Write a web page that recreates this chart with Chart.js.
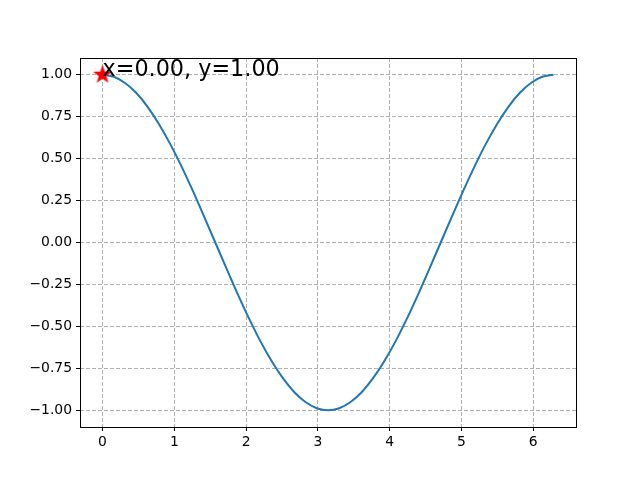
<!DOCTYPE html>
<html>
<head>
<meta charset="utf-8">
<script src="https://cdn.jsdelivr.net/npm/chart.js@4.4.0/dist/chart.umd.min.js"></script>
<style>
  body { margin: 0; background: #fff; }
  canvas { display: block; }
</style>
</head>
<body>
<canvas id="chart" width="640" height="480"></canvas>
<script>
// values
const xValues = [0, 0.157, 0.314, 0.471, 0.628, 0.785, 0.942, 1.100, 1.257, 1.414, 1.571, 1.728, 1.885,
  2.042, 2.199, 2.356, 2.513, 2.670, 2.827, 2.985, 3.142, 3.299, 3.456, 3.613, 3.770, 3.927, 4.084,
  4.241, 4.398, 4.555, 4.712, 4.869, 5.027, 5.184, 5.341, 5.498, 5.655, 5.812, 5.969, 6.126, 6.283];
const yValues = [1.000, 0.988, 0.951, 0.891, 0.809, 0.707, 0.588, 0.454, 0.309, 0.156, 0.000, -0.156,
  -0.309, -0.454, -0.588, -0.707, -0.809, -0.891, -0.951, -0.988, -1.000, -0.988, -0.951, -0.891,
  -0.809, -0.707, -0.588, -0.454, -0.309, -0.156, 0.000, 0.156, 0.309, 0.454, 0.588, 0.707, 0.809,
  0.891, 0.951, 0.988, 1.000];
const markX = [0];
const markY = [1.00];
const markLabel = "x=0.00, y=1.00";
const xTicks = [0, 1, 2, 3, 4, 5, 6];
const yTicks = [-1.00, -0.75, -0.50, -0.25, 0.00, 0.25, 0.50, 0.75, 1.00];

document.addEventListener("DOMContentLoaded", function () {
  // filled star for the marker
  const star = document.createElement("canvas");
  star.width = 22;
  star.height = 22;
  const sc = star.getContext("2d");
  sc.beginPath();
  for (let i = 0; i < 10; i++) {
    const r = i % 2 === 0 ? 10 : 4;
    const a = -Math.PI / 2 + i * Math.PI / 5;
    const px = 11 + r * Math.cos(a), py = 11 + r * Math.sin(a);
    if (i === 0) sc.moveTo(px, py); else sc.lineTo(px, py);
  }
  sc.closePath();
  sc.fillStyle = "#ff0000";
  sc.fill();

  const tickFont = { family: "DejaVu Sans", size: 13.9 };
  const fmt = v => (v < 0 ? "\u2212" : "") + Math.abs(v).toFixed(2);

  const frame = {
    id: "frame",
    afterDatasetsDraw(chart) {
      const { ctx, chartArea: a, scales } = chart;
      ctx.save();
      ctx.strokeStyle = "#000";
      ctx.lineWidth = 1;
      ctx.strokeRect(Math.round(a.left) + 0.5, Math.round(a.top) + 0.5,
        Math.round(a.right - a.left), Math.round(a.bottom - a.top));
      ctx.fillStyle = "#000";
      ctx.font = "22.3px 'DejaVu Sans'";
      ctx.textAlign = "left";
      ctx.textBaseline = "alphabetic";
      ctx.fillText(markLabel, scales.x.getPixelForValue(markX[0]), scales.y.getPixelForValue(markY[0]) + 1);
      ctx.restore();
    }
  };

  new Chart(document.getElementById("chart").getContext("2d"), {
    type: "scatter",
    data: {
      datasets: [
        {
          data: xValues.map((x, i) => ({ x: x, y: yValues[i] })),
          showLine: true,
          borderColor: "#1f77b4",
          borderWidth: 2,
          pointRadius: 0,
          cubicInterpolationMode: "monotone",
          order: 2
        },
        {
          data: markX.map((x, i) => ({ x: x, y: markY[i] })),
          pointStyle: star,
          pointRadius: 10,
          order: 1
        }
      ]
    },
    options: {
      responsive: false,
      animation: false,
      layout: { padding: { left: 0, right: 64, top: 58, bottom: 0 } },
      plugins: { legend: { display: false }, tooltip: { enabled: false } },
      scales: {
        x: {
          type: "linear",
          min: -0.314,
          max: 6.597,
          afterBuildTicks: s => { s.ticks = xTicks.map(v => ({ value: v })); },
          afterFit: s => { s.height = 53; },
          ticks: { color: "#000", font: tickFont, padding: 3, maxRotation: 0, callback: v => String(v) },
          grid: { color: "#b0b0b0", lineWidth: 1, tickColor: "#000", tickLength: 4, tickBorderDash: [] },
          border: { display: false, dash: [4, 2] }
        },
        y: {
          type: "linear",
          min: -1.1,
          max: 1.1,
          afterBuildTicks: s => { s.ticks = yTicks.map(v => ({ value: v })); },
          afterFit: s => { s.width = 80; },
          ticks: { color: "#000", font: tickFont, padding: 4, callback: v => fmt(v) },
          grid: { color: "#b0b0b0", lineWidth: 1, tickColor: "#000", tickLength: 4, tickBorderDash: [] },
          border: { display: false, dash: [4, 2] }
        }
      }
    },
    plugins: [frame]
  });
});
</script>
</body>
</html>
